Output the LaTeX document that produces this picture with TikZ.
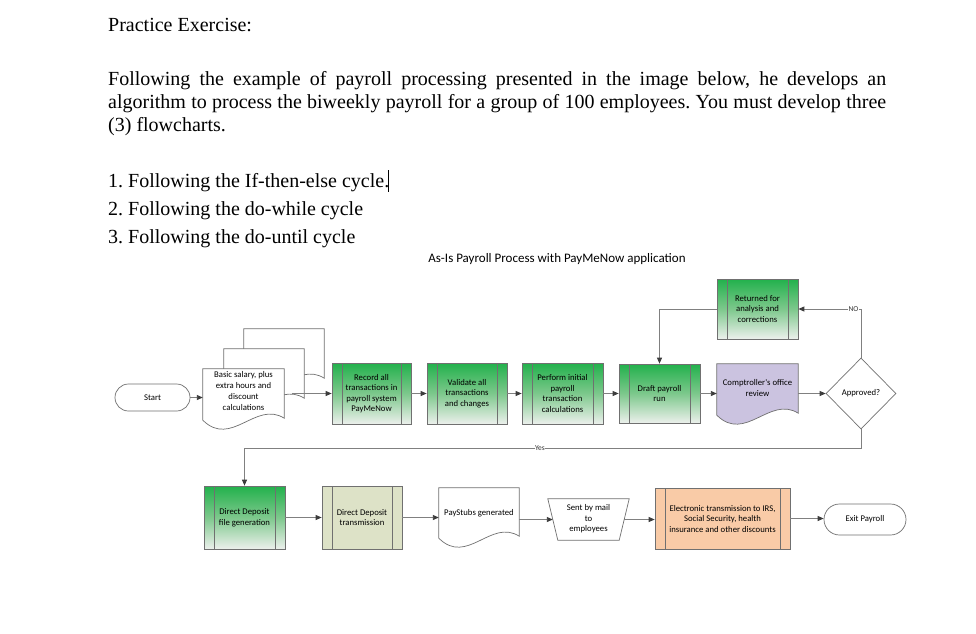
\documentclass[tikz,border=0pt]{standalone}
\usepackage{fontspec}
\setmainfont{Liberation Serif}
\newfontfamily\dgfont{Carlito}
\usetikzlibrary{arrows.meta,shapes.geometric,calc}
\definecolor{bordergray}{RGB}{112,112,112}
\definecolor{linegray}{RGB}{128,128,128}
\definecolor{tipgray}{RGB}{60,60,60}
\definecolor{gtop}{RGB}{34,177,76}
\definecolor{gmid}{RGB}{125,200,140}
\definecolor{gbot}{RGB}{236,240,236}
\definecolor{purplefill}{RGB}{203,195,224}
\definecolor{olivefill}{RGB}{221,226,199}
\definecolor{peachfill}{RGB}{249,203,167}
\newcommand\docpath[2]{\draw[bordergray,line width=0.7pt,fill=#2] (#1.north west) -- (#1.north east) -- ($(#1.south east)+(0,-2)$) .. controls ($(#1.south west)!0.65!(#1.south east)+(0,-20)$) and ($(#1.south west)!0.35!(#1.south east)+(0,28)$) .. (#1.south west) -- cycle;}
\begin{document}
\frenchspacing
\begin{tikzpicture}[x=1pt,y=-1pt,
  bodytext/.style={anchor=base west,inner sep=0pt,font=\fontsize{20}{23}\selectfont\frenchspacing},
  dg/.style={font=\dgfont\fontsize{8.7}{10.5}\selectfont,align=center,inner sep=0pt},
  procbox/.style={dg,rectangle,draw=bordergray,line width=0.7pt,
    path picture={\draw[bordergray,line width=0.6pt]
      ([xshift=10pt]path picture bounding box.north west) -- ([xshift=10pt]path picture bounding box.south west)
      ([xshift=-10pt]path picture bounding box.north east) -- ([xshift=-10pt]path picture bounding box.south east);}},
  greenbox/.style={procbox,top color=gtop,bottom color=gbot,middle color=gmid},
  docnode/.style={dg,rectangle,draw=none},
  termnode/.style={dg,rectangle,draw=bordergray,line width=0.7pt,fill=white,rounded corners=#1},
  arr/.style={linegray,line width=0.9pt,-{Triangle[length=6pt,width=5pt,color=tipgray]}},
  lab/.style={font=\dgfont\fontsize{7.5}{9}\selectfont,fill=white,inner sep=0.5pt,text=black!80}
]
\useasboundingbox[fill=white] (0,0) rectangle (976,633);

% ---------- exercise text ----------
\node[bodytext] (pe) at (108,31) {Practice Exercise:};
\node[bodytext] (p1) at (108,85) {\makebox[778pt][s]{Following the example of payroll processing presented in the image below, he develops an}};
\node[bodytext] (p2) at (108,108) {\makebox[778pt][s]{algorithm to process the biweekly payroll for a group of 100 employees. You must develop three}};
\node[bodytext] (p3) at (108,131) {(3) flowcharts.};
\node[bodytext] (i1) at (108,187) {1. Following the If-then-else cycle.};
\draw[black,line width=0.8pt] (388,170) -- (388,192);
\node[bodytext] (i2) at (108,215) {2. Following the do-while cycle};
\node[bodytext] (i3) at (108,243) {3. Following the do-until cycle};

% ---------- diagram ----------
\node[font=\dgfont\fontsize{13}{15}\selectfont,inner sep=0pt] (title) at (557,259) {As-Is Payroll Process with PayMeNow application};

% top row
\node[termnode=13.5pt,minimum width=75pt,minimum height=27pt] (start) at (152.5,397.5) {Start};

\node[docnode,minimum width=80pt,minimum height=51pt] (doc3) at (284,354.5) {};
\node[docnode,minimum width=80pt,minimum height=51pt] (doc2) at (264,374.5) {};
\node[docnode,minimum width=81pt,minimum height=51pt] (doc1) at (243.5,394.5) {};
\docpath{doc3}{white}
\docpath{doc2}{white}
\docpath{doc1}{white}
\node[dg,font=\dgfont\fontsize{8.7}{11.3}\selectfont] (doc1t) at (243.5,391) {Basic salary, plus\\extra hours and\\discount\\calculations};

\node[greenbox,minimum width=79pt,minimum height=61pt] (rec) at (371.5,393.5) {Record all\\transactions in\\payroll system\\PayMeNow};
\node[greenbox,minimum width=80pt,minimum height=61pt] (val) at (467,393.5) {Validate all\\transactions\\and changes};
\node[greenbox,minimum width=81pt,minimum height=61pt] (perf) at (562.5,393.5) {Perform initial\\payroll\\transaction\\calculations};
\node[greenbox,minimum width=81pt,minimum height=59pt] (draft) at (659.5,393.5) {Draft payroll\\run};
\node[greenbox,minimum width=81pt,minimum height=60pt] (ret) at (757.5,309) {Returned for\\analysis and\\corrections};

\node[docnode,minimum width=81pt,minimum height=51pt] (comp) at (757.5,389.5) {};
\docpath{comp}{purplefill}
\node[dg] (compt) at (757.5,388) {Comptroller's office\\review};

\node[dg,diamond,draw=bordergray,line width=0.7pt,fill=white,minimum width=70pt,minimum height=71pt] (app) at (861,393.5) {Approved?};

% bottom row
\node[greenbox,minimum width=81pt,minimum height=63pt] (ddf) at (244.5,517.5) {Direct Deposit\\file generation};
\node[procbox,fill=olivefill,minimum width=80pt,minimum height=63pt] (ddt) at (362,517.5) {Direct Deposit\\transmission};
\node[docnode,minimum width=80pt,minimum height=50pt] (pay) at (479,513) {};
\docpath{pay}{white}
\node[dg] (payt) at (479,513) {PayStubs generated};
\node[docnode,minimum width=81pt,minimum height=41pt] (sent) at (588.5,519.5) {};
\draw[bordergray,line width=0.7pt,fill=white] (sent.north west) -- (sent.north east) -- ($(sent.south east)+(-10,0)$) -- ($(sent.south west)+(10,0)$) -- cycle;
\node[dg] (sentt) at (588.5,519) {Sent by mail\\to\\employees};
\node[procbox,fill=peachfill,minimum width=135pt,minimum height=61pt] (elec) at (722.5,518.5) {Electronic transmission to IRS,\\Social Security, health\\insurance and other discounts};
\node[termnode=15.5pt,minimum width=82pt,minimum height=31pt] (exit) at (865,519.5) {Exit Payroll};

% connectors top row
\draw[arr] (start.east) -- (start.east -| doc1.west);
\draw[arr] ([xshift=-12pt]doc2.east |- rec.west) -- (rec.west);
\draw[arr] (rec.east) -- (val.west);
\draw[arr] (val.east) -- (perf.west);
\draw[arr] (perf.east) -- (draft.west);
\draw[arr] (draft.east) -- (draft.east -| comp.west);
\draw[arr] (app.west -| comp.east) -- (app.west);
\draw[arr] (app.north) |- node[lab,pos=0.56] {NO} (ret.east);
\draw[arr] (ret.west) -| (draft.north);
\coordinate (yc) at (861,448);
\draw[arr] (app.south) -- (yc) -| (ddf.north);
\node[lab] (yes) at (540,448) {Yes};

% connectors bottom row
\draw[arr] (ddf.east) -- (ddt.west);
\draw[arr] (ddt.east) -- (ddt.east -| pay.west);
\draw[arr] (pay.east |- sent.west) -- ([xshift=5pt]sent.west);
\draw[arr] ([xshift=-5pt]sent.east) -- (sent.east -| elec.west);
\draw[arr] (elec.east) -- (elec.east -| exit.west);
\end{tikzpicture}
\end{document}
